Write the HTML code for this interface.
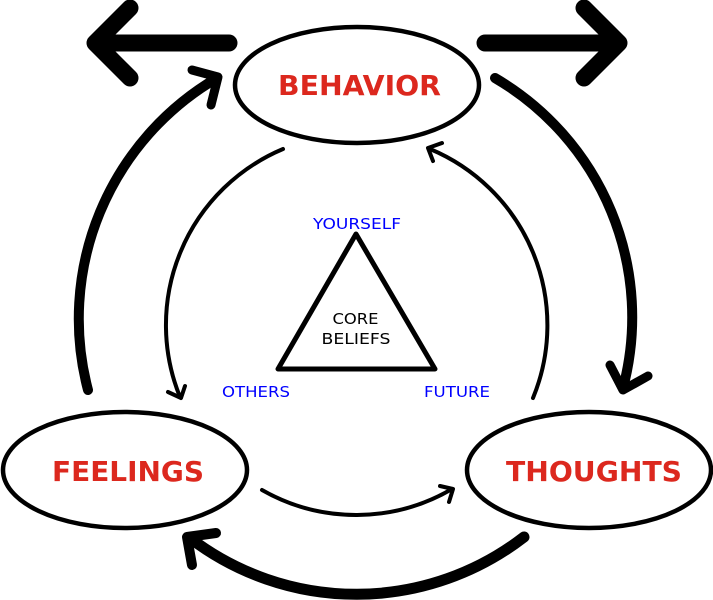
<!DOCTYPE html>
<html>
<head>
<meta charset="utf-8">
<style>
html,body{margin:0;padding:0;background:#fff;}
svg{display:block;}
text{font-family:"DejaVu Sans",sans-serif;}
.n{font-weight:bold;font-size:27.5px;fill:#dc281e;}
.b{font-size:15.500px;fill:#0000ff;}
.k{font-size:15.500px;fill:#000;}
</style>
</head>
<body>
<svg width="713" height="600" viewBox="0 0 713 600" xmlns="http://www.w3.org/2000/svg">
<rect width="713" height="600" fill="#fff"/>
<g fill="none" stroke="#000" stroke-linecap="round" stroke-linejoin="round">
  <ellipse cx="357" cy="85" rx="122" ry="58" stroke-width="4.500"/>
  <ellipse cx="125" cy="470" rx="122" ry="58" stroke-width="4.500"/>
  <ellipse cx="589" cy="470" rx="122" ry="58" stroke-width="4.500"/>

  <path d="M229 43H96" stroke-width="17"/>
  <path d="M130 8L95 43L130 78" stroke-width="17"/>
  <path d="M485 43H618" stroke-width="17"/>
  <path d="M584 8L619 43L584 78" stroke-width="17"/>

  <path d="M88 390A279 279 0 0 1 217 78" stroke-width="10"/>
  <path d="M192 70L218 77L211 105" stroke-width="9"/>
  <path d="M495 78A277 277 0 0 1 623 388" stroke-width="10"/>
  <path d="M610 365L623 390L648 376" stroke-width="9"/>
  <path d="M524 537A274 274 0 0 1 190 538" stroke-width="11"/>
  <path d="M216 533L187 537L192 565" stroke-width="10"/>

  <path d="M283 149A191 191 0 0 0 180 397" stroke-width="4"/>
  <path d="M168 392L181 398L185 386" stroke-width="4"/>
  <path d="M533 398A191 191 0 0 0 430 149" stroke-width="4"/>
  <path d="M442 143L428 148L433 161" stroke-width="4"/>
  <path d="M262 490A190 190 0 0 0 452 489" stroke-width="4"/>
  <path d="M440 486L453 489L449 502" stroke-width="4"/>

  <path d="M356 234L278 369H435Z" stroke-width="5"/>
</g>
<text class="n" x="278" y="95" textLength="163" lengthAdjust="spacingAndGlyphs">BEHAVIOR</text>
<text class="n" x="52" y="481" textLength="152" lengthAdjust="spacingAndGlyphs">FEELINGS</text>
<text class="n" x="506" y="481" textLength="176" lengthAdjust="spacingAndGlyphs">THOUGHTS</text>
<text class="b" x="357" y="229" text-anchor="middle" textLength="88" lengthAdjust="spacingAndGlyphs">YOURSELF</text>
<text class="b" x="222" y="397" textLength="68" lengthAdjust="spacingAndGlyphs">OTHERS</text>
<text class="b" x="424" y="397" textLength="66" lengthAdjust="spacingAndGlyphs">FUTURE</text>
<text class="k" x="355.500" y="324" text-anchor="middle" textLength="46" lengthAdjust="spacingAndGlyphs">CORE</text>
<text class="k" x="356" y="344" text-anchor="middle" textLength="69" lengthAdjust="spacingAndGlyphs">BELIEFS</text>
</svg>
</body>
</html>
